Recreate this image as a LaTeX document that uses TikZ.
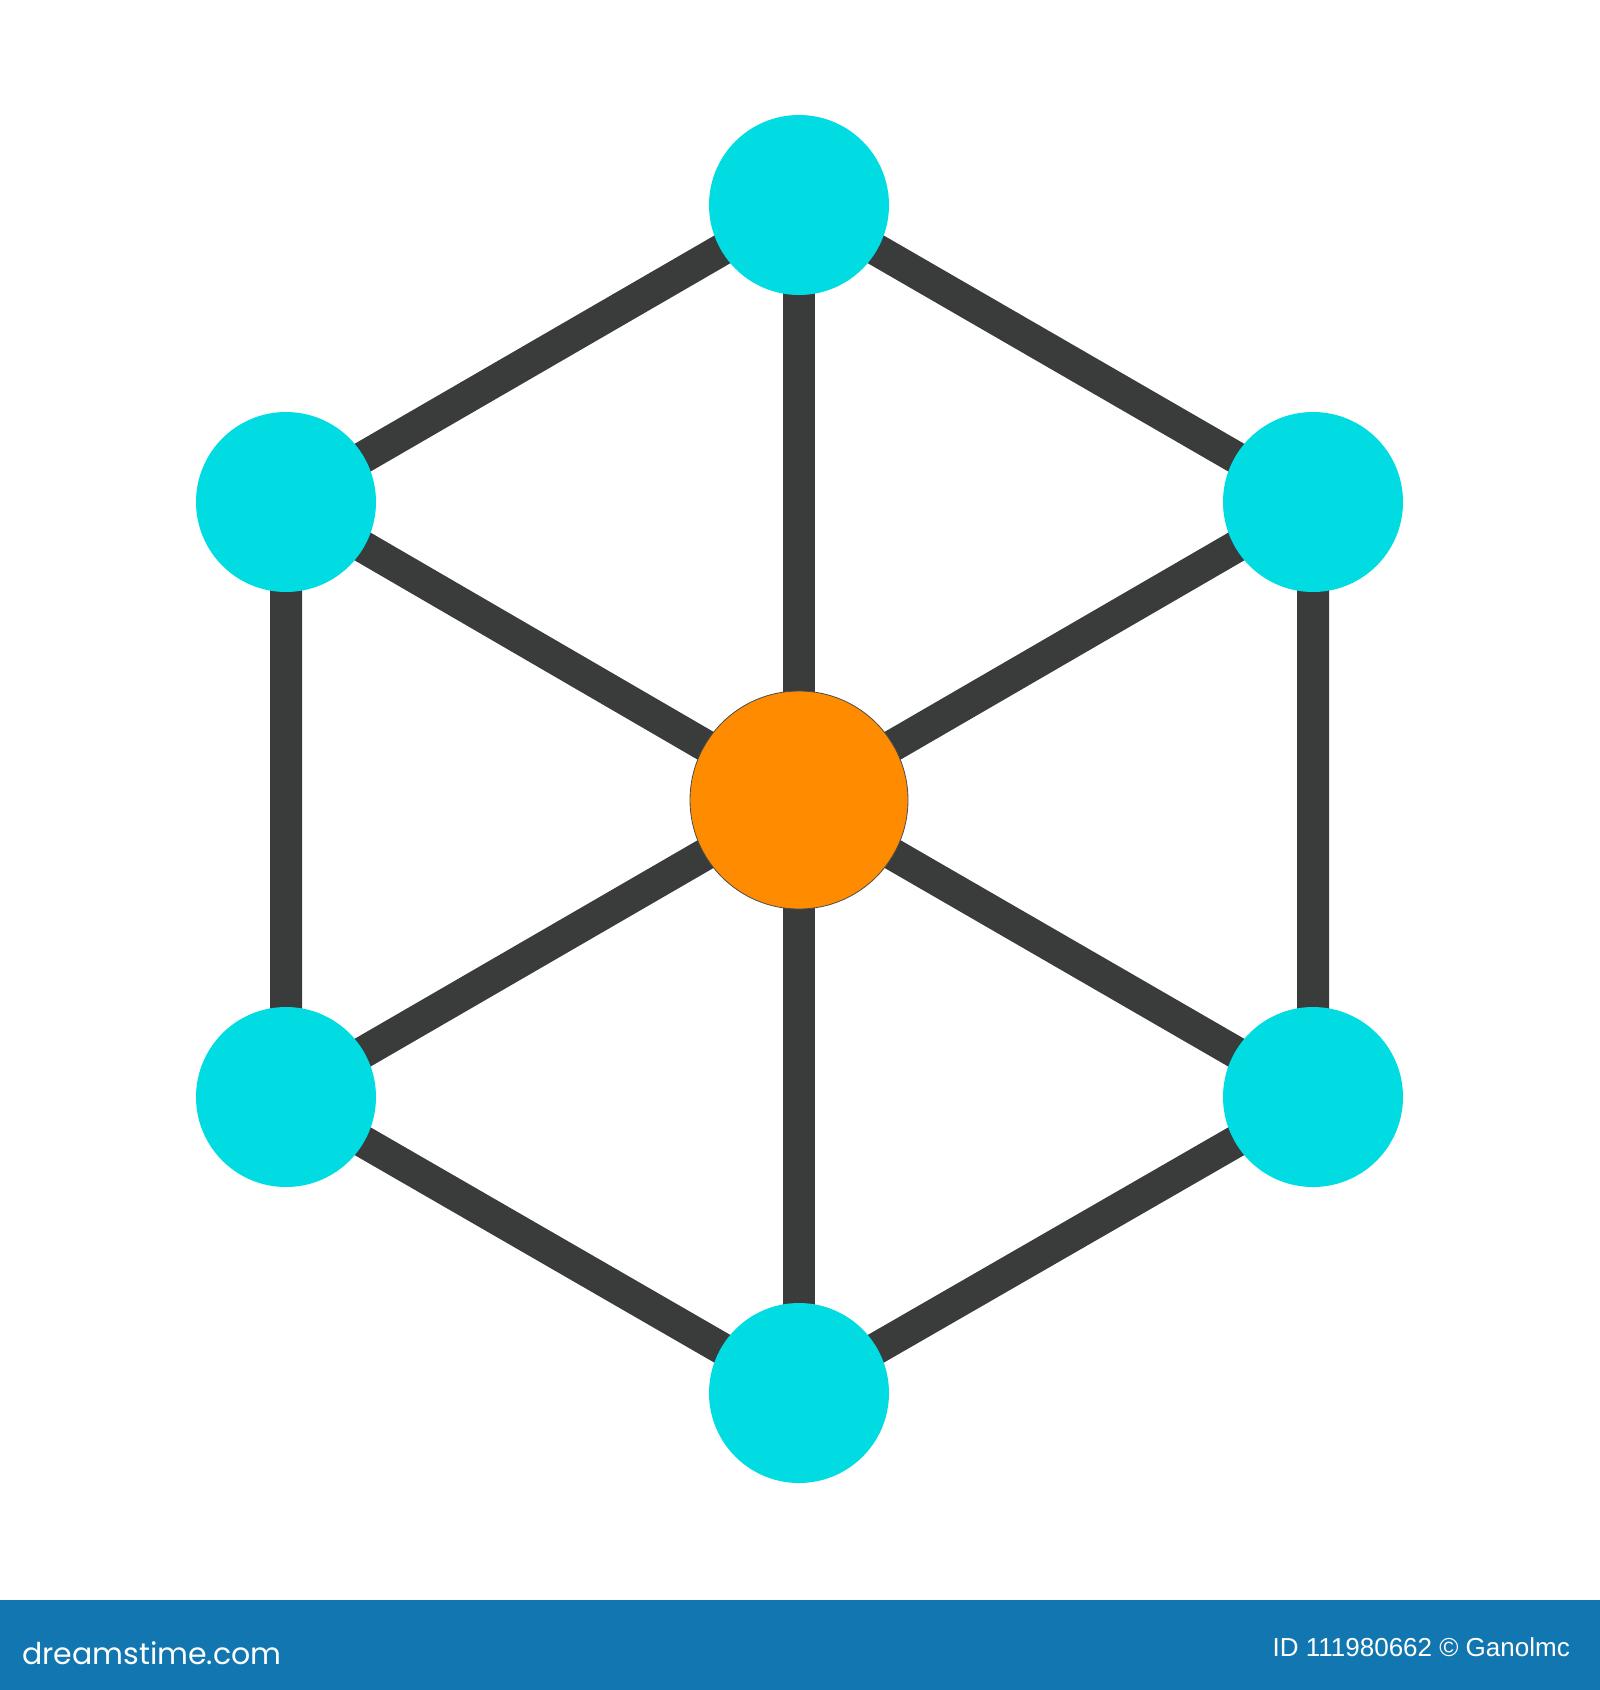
\documentclass[tikz,border=0pt]{standalone}
\usepackage{fontspec}
\setmainfont{Liberation Sans}
\newfontfamily\logofont{Poppins}
\usetikzlibrary{backgrounds}

\definecolor{atomcyan}{HTML}{00DCE2}
\definecolor{coreorange}{HTML}{FF8C00}
\definecolor{bonddark}{HTML}{3A3B3B}
\definecolor{barblue}{HTML}{1277B0}

\tikzset{
    atom/.style={circle, fill=atomcyan, minimum size=180pt, inner sep=0pt},
    core/.style={circle, fill=coreorange, draw=black!70, line width=0.8pt, minimum size=218pt, inner sep=0pt},
    bond/.style={draw=bonddark, line width=32pt}
}

\begin{document}
\begin{tikzpicture}[x=1pt, y=-1pt]
        \useasboundingbox (0,0) rectangle (1600,1690);

        % atoms of the hexagon
        \node[atom] (top) at (799,205) {};
        \node[atom] (upleft) at (286,502) {};
        \node[atom] (upright) at (1313,502) {};
        \node[atom] (lowleft) at (286,1097) {};
        \node[atom] (lowright) at (1313,1097) {};
        \node[atom] (bottom) at (799,1393) {};
        \node[core] (centre) at (799,800) {};

        \begin{scope}[on background layer]
            % outer ring
            \draw[bond] (top.center) -- (upleft.center) -- (lowleft.center) -- (bottom.center)
                -- (lowright.center) -- (upright.center) -- cycle;
            % spokes
            \foreach \atomname in {top, upleft, upright, lowleft, lowright, bottom}
                \draw[bond] (centre.center) -- (\atomname.center);
        \end{scope}

        % footer bar
        \fill[barblue] (0,1600) rectangle (1600,1690);
        \node[anchor=base west, text=white, inner sep=0pt, font=\logofont\fontsize{30}{30}\selectfont] (logo) at (22,1664) {dreamstime.com};
        \node[anchor=base east, text=white, inner sep=0pt, font=\fontsize{26}{26}\selectfont] (imageid) at (1570,1656) {ID 111980662 © Ganolmc};
\end{tikzpicture}
\end{document}
